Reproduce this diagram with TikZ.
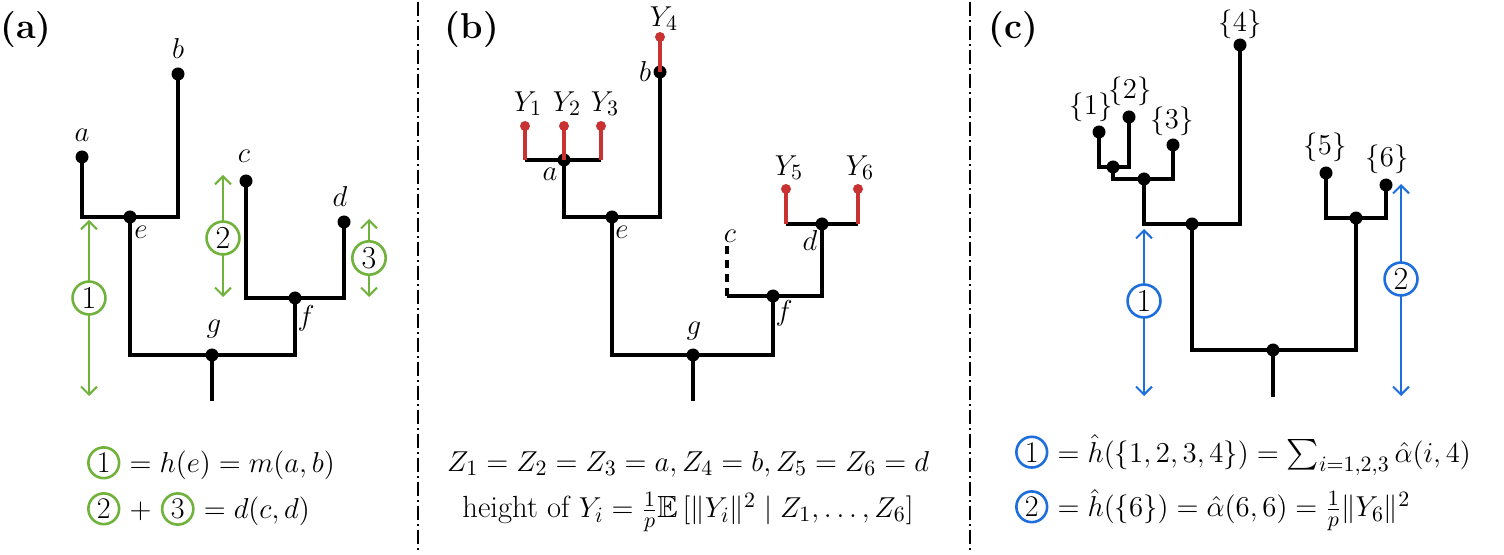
\documentclass[tikz,border=0pt]{standalone}
\usepackage{amsmath,amssymb}
\usetikzlibrary{arrows.meta}
\definecolor{gr}{RGB}{112,178,60}
\definecolor{bl}{RGB}{30,110,220}
\definecolor{rd}{RGB}{200,50,50}
\newcommand{\mycirc}[2]{\tikz[baseline=(n.base)]\node[draw=#1,line width=1.3pt,circle,inner sep=1.2pt,font=\fontsize{15}{17}\selectfont](n){#2};}
\begin{document}
\begin{tikzpicture}[x=0.5pt,y=-0.5pt,
  br/.style={line width=1.9pt},
  rb/.style={line width=1.9pt,rd},
  dot/.style={circle,fill,inner sep=0pt,minimum size=6.5pt},
  rdot/.style={circle,fill=rd,inner sep=0pt,minimum size=5pt},
  lab/.style={font=\fontsize{15.3}{18}\selectfont},
  dbl/.style={line width=1pt,{Straight Barb[length=4pt,width=8pt]}-{Straight Barb[length=4pt,width=8pt]}},
  cn/.style={circle,fill=white,draw,line width=1.3pt,inner sep=1.3pt,font=\fontsize{16}{18}\selectfont},
  sep/.style={line width=1pt,dash pattern=on 7pt off 2pt on 1pt off 2pt},
  pl/.style={font=\fontsize{18}{20}\selectfont\bfseries}]
\useasboundingbox (0,0) rectangle (1504,555);
% separators
\coordinate (s1t) at (418,2); \coordinate (s1b) at (418,553);
\coordinate (s2t) at (970,2); \coordinate (s2b) at (970,553);
\draw[sep] (s1t) -- (s1b); \draw[sep] (s2t) -- (s2b);
% ---------- (a)
\node[pl] (pa) at (26,30) {(a)};
\node[dot] (a) at (82,157) {}; \node[dot] (b) at (178,74) {};
\node[dot] (e) at (130,217) {}; \node[dot] (g) at (212,355) {};
\node[dot] (f) at (295,298) {}; \node[dot] (c) at (246,181) {};
\node[dot] (d) at (344,222) {};
\coordinate (r) at (212,401);
\draw[br] (a.center) |- (e.center) -| (b.center);
\draw[br] (e.center) |- (g.center) -| (f.center);
\draw[br] (c.center) |- (f.center) -| (d.center);
\draw[br] (g.center) -- (r);
\node[lab] at (82,135) {$a$}; \node[lab] at (178,49) {$b$};
\node[lab] at (244,156) {$c$}; \node[lab] at (340,197) {$d$};
\node[lab] at (141,232) {$e$}; \node[lab] at (306,318) {$f$};
\node[lab] at (214,329) {$g$};
\coordinate (a1t) at (89,220); \coordinate (a1b) at (89,396);
\draw[gr,dbl] (a1t) -- (a1b); \node[cn,draw=gr] at (89,298) {1};
\coordinate (a2t) at (223,175); \coordinate (a2b) at (223,297);
\draw[gr,dbl] (a2t) -- (a2b); \node[cn,draw=gr] at (223,238) {2};
\coordinate (a3t) at (369,219); \coordinate (a3b) at (369,297);
\draw[gr,dbl] (a3t) -- (a3b); \node[cn,draw=gr] at (369,258) {3};
\node[lab,anchor=west] at (80,463) {\mycirc{gr}{1} $= h(e) = m(a,b)$};
\node[lab,anchor=west] at (80,509) {\mycirc{gr}{2} $+$ \mycirc{gr}{3} $= d(c,d)$};
% ---------- (b)
\node[pl] (pb) at (472,30) {(b)};
\node[dot] (ba) at (564,160) {}; \node[dot] (bb) at (660,72) {};
\node[dot] (be) at (612,217) {}; \node[dot] (bg) at (693,355) {};
\node[dot] (bf) at (773,296) {}; \node[dot] (bd) at (822,224) {};
\coordinate (bc) at (727,246); \coordinate (br) at (693,401);
\node[rdot] (y1) at (525,126) {}; \node[rdot] (y2) at (564,126) {};
\node[rdot] (y3) at (601,126) {}; \node[rdot] (y4) at (660,37) {};
\node[rdot] (y5) at (786,189) {}; \node[rdot] (y6) at (858,189) {};
\draw[br] (525,160) -- (601,160);
\draw[br] (ba.center) |- (be.center) -| (bb.center);
\draw[br] (be.center) |- (bg.center) -| (bf.center);
\draw[br] (bd.center) |- (bf.center);
\draw[br,dash pattern=on 4pt off 3pt] (bc) -- (727,296);
\draw[br] (727,296) -- (bf.center);
\draw[br] (786,224) -- (858,224);
\draw[br] (bg.center) -- (br);
\draw[rb] (y1.center) -- (525,160); \draw[rb] (y2.center) -- (564,160);
\draw[rb] (y3.center) -- (601,160); \draw[rb] (y4.center) -- (bb.center);
\draw[rb] (y5.center) -- (786,224); \draw[rb] (y6.center) -- (858,224);
\node[lab] at (528,104) {$Y_1$}; \node[lab] at (567,104) {$Y_2$};
\node[lab] at (605,104) {$Y_3$}; \node[lab] at (664,19) {$Y_4$};
\node[lab] at (789,168) {$Y_5$}; \node[lab] at (860,168) {$Y_6$};
\node[lab] at (550,174) {$a$}; \node[lab] at (645,72) {$b$};
\node[lab] at (730,236) {$c$}; \node[lab] at (810,241) {$d$};
\node[lab] at (622,232) {$e$}; \node[lab] at (784,313) {$f$};
\node[lab] at (694,331) {$g$};
\node[lab] at (688,464) {$Z_1=Z_2=Z_3=a, Z_4=b, Z_5=Z_6=d$};
\node[lab] at (688,512) {height of $Y_i=\frac{1}{p}\mathbb{E}\,[\|Y_i\|^2 \mid Z_1,\ldots,Z_6]$};
% ---------- (c)
\node[pl] (pc) at (1013,30) {(c)};
\node[dot] (c4) at (1240,45) {};
\node[dot] (c1) at (1099,132) {}; \node[dot] (c2) at (1129,117) {};
\node[dot] (c3) at (1173,145) {};
\node[dot] (c12) at (1113,167) {}; \node[dot] (c123) at (1144,179) {};
\node[dot] (cL) at (1192,224) {}; \node[dot] (cR) at (1356,218) {};
\node[dot] (c5) at (1326,173) {}; \node[dot] (c6) at (1386,185) {};
\node[dot] (cr) at (1273,350) {}; \coordinate (crr) at (1273,397);
\draw[br] (c1.center) |- (c12.center) -| (c2.center);
\draw[br] (c12.center) |- (c123.center) -| (c3.center);
\draw[br] (c123.center) |- (cL.center) -| (c4.center);
\draw[br] (cL.center) |- (cr.center) -| (cR.center);
\draw[br] (c5.center) |- (cR.center) -| (c6.center);
\draw[br] (cr.center) -- (crr);
\node[lab] at (1091,107) {$\{1\}$}; \node[lab] at (1130,91) {$\{2\}$};
\node[lab] at (1172,121) {$\{3\}$}; \node[lab] at (1240,24) {$\{4\}$};
\node[lab] at (1325,147) {$\{5\}$}; \node[lab] at (1387,159) {$\{6\}$};
\coordinate (b1t) at (1144,229); \coordinate (b1b) at (1144,396);
\draw[bl,dbl] (b1t) -- (b1b); \node[cn,draw=bl] at (1144,301) {1};
\coordinate (b2t) at (1401,184); \coordinate (b2b) at (1401,396);
\draw[bl,dbl] (b2t) -- (b2b); \node[cn,draw=bl] at (1401,279) {2};
\node[lab,anchor=west] at (1008,455) {\mycirc{bl}{1} $=\hat h(\{1,2,3,4\})=\sum_{i=1,2,3}\hat\alpha(i,4)$};
\node[lab,anchor=west] at (1008,510) {\mycirc{bl}{2} $=\hat h(\{6\})=\hat\alpha(6,6)=\frac{1}{p}\|Y_6\|^2$};
\end{tikzpicture}
\end{document}
